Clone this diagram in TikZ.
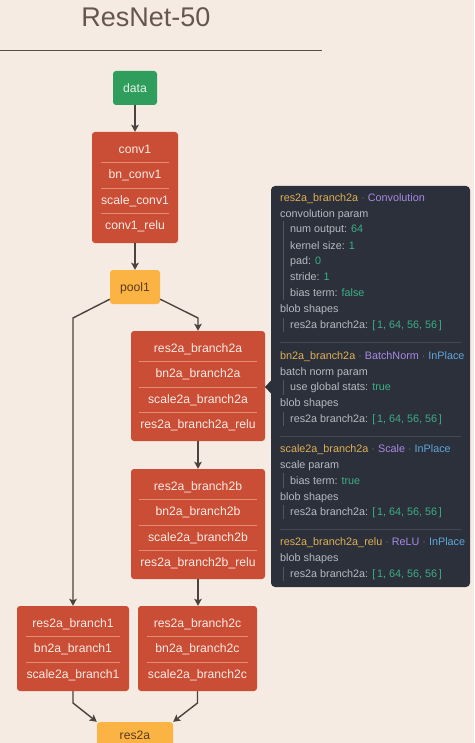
\documentclass[tikz,border=0pt]{standalone}
\usepackage{fontspec}
\setmainfont{Liberation Sans}
\usetikzlibrary{arrows.meta}
\definecolor{bgc}{HTML}{F6EBE2}
\definecolor{redc}{HTML}{CA4D35}
\definecolor{redsep}{HTML}{E58C74}
\definecolor{redtxt}{HTML}{FCECE6}
\definecolor{greenc}{HTML}{2F9E5C}
\definecolor{greentxt}{HTML}{E3F3E8}
\definecolor{orangec}{HTML}{FBB343}
\definecolor{orangetxt}{HTML}{5B3A1E}
\definecolor{arrowc}{HTML}{4A4340}
\definecolor{titlec}{HTML}{66564E}
\definecolor{rulec}{HTML}{5A4C45}
\definecolor{panelc}{HTML}{2C303A}
\definecolor{panelsep}{HTML}{434854}
\definecolor{guidec}{HTML}{505662}
\definecolor{tgray}{HTML}{B6BAC2}
\definecolor{tname}{HTML}{DFAF58}
\definecolor{tpurple}{HTML}{A78AE6}
\definecolor{tblue}{HTML}{5DA7DE}
\definecolor{tgreen}{HTML}{3CAE86}
\definecolor{tdot}{HTML}{6A6F79}
\newcommand\dsep{{\color{tdot}\ ·\ }}
\newcommand\gv[1]{{\color{tgreen}#1}}
\newcommand\shp{\gv{[\,1, 64, 56, 56\,]}}
\tikzset{
  arr/.style={draw=arrowc, line width=1.4pt, -{Stealth[length=7pt,width=7.5pt,inset=1.5pt]}},
  blk/.style={fill=redc, rounded corners=3pt, inner sep=0pt},
  rowt/.style={anchor=base, inner sep=0pt, text=redtxt, font=\fontsize{12.2}{14}\selectfont},
  sepl/.style={draw=redsep, line width=0.8pt},
  tt/.style={anchor=base west, inner sep=0pt, text=tgray, font=\fontsize{10.8}{13}\selectfont},
  tsep/.style={draw=panelsep, line width=0.8pt},
  guide/.style={draw=guidec, line width=0.7pt},
}
\begin{document}
\begin{tikzpicture}[x=1pt,y=-1pt]
\fill[bgc] (0,0) rectangle (474,743);
\useasboundingbox (0,0) rectangle (474,743);

% title
\node[anchor=base, inner sep=0pt, text=titlec, font=\fontsize{27}{30}\selectfont] (title) at (146,27) {ResNet-50};
\draw[rulec, line width=1pt] (0,51) -- (322,51);

% data
\node[fill=greenc, rounded corners=3pt, minimum width=44pt, minimum height=34pt, inner sep=0pt] (data) at (135,88) {};
\node[anchor=base, inner sep=0pt, text=greentxt, font=\fontsize{12.2}{14}\selectfont] (datat) at (135,92.3) {data};

% conv1 block (top 132)
\node[blk, minimum width=86pt, minimum height=111pt] (conv1) at (135,187.5) {};
\node[rowt] (c1a) at (135,153.3) {conv1};
\node[rowt] (c1b) at (135,178.8) {bn\_conv1};
\node[rowt] (c1c) at (135,204.3) {scale\_conv1};
\node[rowt] (c1d) at (135,229.8) {conv1\_relu};
\draw[sepl] (101,162) -- (169,162);
\draw[sepl] (101,188) -- (169,188);
\draw[sepl] (101,213) -- (169,213);

% pool1
\node[fill=orangec, rounded corners=3pt, minimum width=50pt, minimum height=34pt, inner sep=0pt] (pool1) at (135,287) {};
\node[anchor=base, inner sep=0pt, text=orangetxt, font=\fontsize{12.2}{14}\selectfont] (pool1t) at (135,291.3) {pool1};

% res2a_branch2a block (top 331)
\node[blk, minimum width=134pt, minimum height=110pt] (b2a) at (198,386) {};
\node[rowt] (b2aa) at (198,352.3) {res2a\_branch2a};
\node[rowt] (b2ab) at (198,377.8) {bn2a\_branch2a};
\node[rowt] (b2ac) at (198,403.3) {scale2a\_branch2a};
\node[rowt] (b2ad) at (198,428.8) {res2a\_branch2a\_relu};
\draw[sepl] (139,361) -- (257,361);
\draw[sepl] (139,387) -- (257,387);
\draw[sepl] (139,412) -- (257,412);

% res2a_branch2b block (top 469)
\node[blk, minimum width=134pt, minimum height=110pt] (b2b) at (198,524) {};
\node[rowt] (b2ba) at (198,490.3) {res2a\_branch2b};
\node[rowt] (b2bb) at (198,515.8) {bn2a\_branch2b};
\node[rowt] (b2bc) at (198,541.3) {scale2a\_branch2b};
\node[rowt] (b2bd) at (198,566.8) {res2a\_branch2b\_relu};
\draw[sepl] (139,499) -- (257,499);
\draw[sepl] (139,525) -- (257,525);
\draw[sepl] (139,550) -- (257,550);

% res2a_branch1 block (top 606)
\node[blk, minimum width=112pt, minimum height=85pt] (b1) at (73,648.5) {};
\node[rowt] (b1a) at (73,627.3) {res2a\_branch1};
\node[rowt] (b1b) at (73,652.8) {bn2a\_branch1};
\node[rowt] (b1c) at (73,678.3) {scale2a\_branch1};
\draw[sepl] (26,636) -- (120,636);
\draw[sepl] (26,662) -- (120,662);

% res2a_branch2c block (top 606)
\node[blk, minimum width=119pt, minimum height=85pt] (b2c) at (197.5,648.5) {};
\node[rowt] (b2ca) at (197.5,627.3) {res2a\_branch2c};
\node[rowt] (b2cb) at (197.5,652.8) {bn2a\_branch2c};
\node[rowt] (b2cc) at (197.5,678.3) {scale2a\_branch2c};
\draw[sepl] (147,636) -- (248,636);
\draw[sepl] (147,662) -- (248,662);

% res2a
\node[fill=orangec, rounded corners=3pt, minimum width=76pt, minimum height=34pt, inner sep=0pt] (res2a) at (135,739) {};
\node[anchor=base, inner sep=0pt, text=orangetxt, font=\fontsize{12.2}{14}\selectfont] (res2at) at (135,739.3) {res2a};

% connectors
\coordinate (pl) at (73,318);
\coordinate (pr) at (198,318);
\coordinate (bl) at (73,703);
\coordinate (br) at (197.5,703);
\draw[arr] (data) -- (conv1);
\draw[arr] (conv1) -- (pool1);
\draw[arr] ([yshift=5pt]pool1.south west) -- (pl) -- (b1.north);
\draw[arr] ([yshift=5pt]pool1.south east) -- (pr) -- (b2a.north);
\draw[arr] (b2a) -- (b2b);
\draw[arr] (b2b.south) -- (b2b.south |- b2c.north);
\draw[arr] (b1.south) -- (bl) -- (res2a.north west);
\draw[arr] (b2c.south) -- (br) -- (res2a.north east);

% tooltip panel
\node[fill=panelc, rounded corners=4pt, minimum width=199pt, minimum height=401pt, inner sep=0pt] (tip) at (370.5,386.5) {};
\fill[panelc] (271.5,380) -- (265,387) -- (271.5,394) -- cycle;

\node[tt] (l1) at (280,201.5) {{\color{tname}res2a\_branch2a}\dsep{\color{tpurple}Convolution}};
\node[tt] (l2) at (280,217.5) {convolution param};
\node[tt] (l3) at (290,233) {num output: \gv{64}};
\node[tt] (l4) at (290,249) {kernel size: \gv{1}};
\node[tt] (l5) at (290,264.5) {pad: \gv{0}};
\node[tt] (l6) at (290,280.5) {stride: \gv{1}};
\node[tt] (l7) at (290,296.5) {bias term: \gv{false}};
\node[tt] (l8) at (280,312.5) {blob shapes};
\node[tt] (l9) at (290,328.5) {res2a branch2a: \shp};
\draw[guide] (283,221) -- (283,300);
\draw[guide] (283,318) -- (283,332);
\draw[tsep] (280,342.5) -- (461,342.5);

\node[tt] (l10) at (280,359) {{\color{tname}bn2a\_branch2a}\dsep{\color{tpurple}BatchNorm}\dsep{\color{tblue}InPlace}};
\node[tt] (l11) at (280,375) {batch norm param};
\node[tt] (l12) at (290,390.5) {use global stats: \gv{true}};
\node[tt] (l13) at (280,406.5) {blob shapes};
\node[tt] (l14) at (290,422.5) {res2a branch2a: \shp};
\draw[guide] (283,380) -- (283,395);
\draw[guide] (283,412) -- (283,426);
\draw[tsep] (280,436) -- (461,436);

\node[tt] (l15) at (280,452) {{\color{tname}scale2a\_branch2a}\dsep{\color{tpurple}Scale}\dsep{\color{tblue}InPlace}};
\node[tt] (l16) at (280,468.5) {scale param};
\node[tt] (l17) at (290,484) {bias term: \gv{true}};
\node[tt] (l18) at (280,500) {blob shapes};
\node[tt] (l19) at (290,515.5) {res2a branch2a: \shp};
\draw[guide] (283,473) -- (283,488);
\draw[guide] (283,505) -- (283,519);
\draw[tsep] (280,529.5) -- (461,529.5);

\node[tt] (l20) at (280,545.5) {{\color{tname}res2a\_branch2a\_relu}\dsep{\color{tpurple}ReLU}\dsep{\color{tblue}InPlace}};
\node[tt] (l21) at (280,561.5) {blob shapes};
\node[tt] (l22) at (290,577.5) {res2a branch2a: \shp};
\draw[guide] (283,567) -- (283,581);
\end{tikzpicture}
\end{document}
